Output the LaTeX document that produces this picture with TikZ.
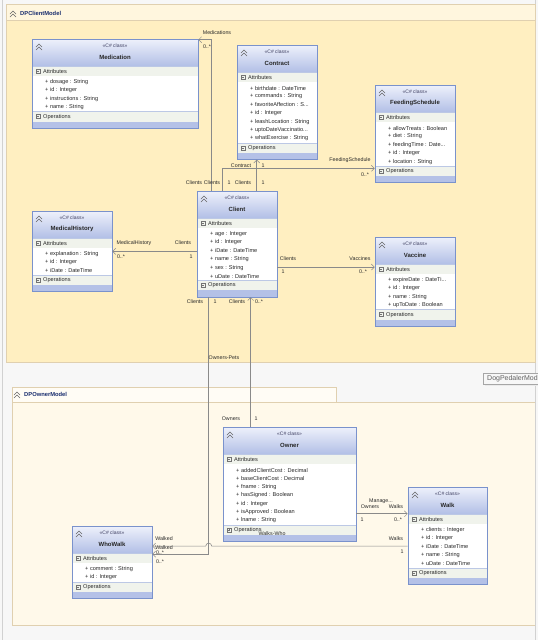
\documentclass[tikz,border=0pt]{standalone}
\usepackage{fontspec}
\setmainfont{Liberation Sans}
\usepackage{tikz}
\usetikzlibrary{calc,fit,arrows.meta,positioning}

\definecolor{pkgbody}{RGB}{255,239,193}
\definecolor{pkghead}{RGB}{255,246,222}
\definecolor{pkgline}{RGB}{224,208,176}
\definecolor{ownbody}{RGB}{255,249,234}
\definecolor{ownhead}{RGB}{255,252,245}
\definecolor{clborder}{RGB}{122,146,204}
\definecolor{clshtop}{RGB}{238,241,251}
\definecolor{clshbot}{RGB}{178,191,230}
\definecolor{clfoot}{RGB}{180,193,231}
\definecolor{clrow}{RGB}{240,243,236}
\definecolor{cltext}{RGB}{40,40,40}
\definecolor{clstereo}{RGB}{60,60,95}
\definecolor{linkgrey}{RGB}{138,138,138}
\definecolor{pkgtitle}{RGB}{25,45,110}

\tikzset{
  assoc/.style={draw=linkgrey, line width=0.6pt},
  navarrow/.style={assoc, -{Straight Barb[length=3pt,width=6pt,line width=0.5pt]}},
  lbl/.style={font=\fontsize{5.3}{6}\selectfont, text=cltext, inner sep=0pt},
  attr/.style={font=\fontsize{5.6}{6.5}\selectfont, text=cltext, inner sep=0pt, anchor=west},
  stereo/.style={font=\fontsize{5}{6}\selectfont, text=clstereo, inner sep=0pt},
  clname/.style={font=\fontsize{6}{7}\selectfont\bfseries, text=black!85, inner sep=0pt},
  pkgname/.style={font=\fontsize{5.8}{7}\selectfont\bfseries, text=pkgtitle, inner sep=0pt, anchor=west},
  chev/.style={draw=black!60, line width=0.5pt},
  boxicon/.style={draw=black!55, line width=0.35pt},
}

\newcommand{\tdots}{.\kern0pt.\kern0pt.}
\newcommand{\chevrons}[2]{%
  \draw[chev] (#1-3,#2+1) -- (#1,#2-2) -- (#1+3,#2+1);
  \draw[chev] (#1-3,#2+4) -- (#1,#2+1) -- (#1+3,#2+4);
}

% id, x, y, width, number of attributes, name, attributes, plus sign on operations
\newcommand{\umlclass}[8]{%
  \pgfmathsetmacro\cmx{#2+#4/2}%
  \pgfmathsetmacro\cmrx{#2+#4}%
  \pgfmathsetmacro\cmhy{#3+27}%
  \pgfmathsetmacro\cmay{\cmhy+10}%
  \pgfmathsetmacro\cmoy{\cmay+#5*8.4+2}%
  \pgfmathsetmacro\cmfy{\cmoy+10}%
  \pgfmathsetmacro\cmby{\cmfy+6.5}%
  \fill[white] (#2,#3) rectangle (\cmrx,\cmby);
  \shade[top color=clshtop,bottom color=clshbot] (#2,#3) rectangle (\cmrx,\cmhy);
  \fill[clrow] (#2,\cmhy) rectangle (\cmrx,\cmay);
  \fill[clrow] (#2,\cmoy) rectangle (\cmrx,\cmfy);
  \fill[clfoot] (#2,\cmfy) rectangle (\cmrx,\cmby);
  \draw[clborder!50,line width=0.3pt] (#2,\cmhy) -- (\cmrx,\cmhy) (#2,\cmoy) -- (\cmrx,\cmoy);
  \chevrons{#2+7}{#3+7}
  \node[stereo] (#1-st) at (\cmx,#3+7) {«C\# class»};
  \node[clname] (#1-nm) at (\cmx,#3+18) {#6};
  \draw[boxicon] (#2+4,\cmhy+3) rectangle (#2+8,\cmhy+7) (#2+5,\cmhy+5) -- (#2+7,\cmhy+5);
  \node[attr] (#1-at) at (#2+11,\cmhy+5) {Attributes};
  \foreach \a [count=\i] in {#7}
    \node[attr] (#1-a\i) at (#2+13,\cmay+6+\i*8.4-8.4) {\a};
  \draw[boxicon] (#2+4,\cmoy+3) rectangle (#2+8,\cmoy+7) (#2+5,\cmoy+5) -- (#2+7,\cmoy+5);
  \ifnum#8=1 \draw[boxicon] (#2+6,\cmoy+4) -- (#2+6,\cmoy+6); \fi
  \node[attr] (#1-op) at (#2+11,\cmoy+5) {Operations};
  \node[fit={(#2,#3) (\cmrx,\cmby)}, inner sep=0pt, draw=clborder, line width=0.6pt] (#1) {};
}

\begin{document}
\begin{tikzpicture}[x=1pt,y=-1pt]
\useasboundingbox (0,0) rectangle (538,640);
\clip (0,0) rectangle (538,640);
\fill[black!3] (0,0) rectangle (538,640);
\draw[black!18,line width=0.5pt] (2.5,0) -- (2.5,640) (535.5,0) -- (535.5,640);

% packages
\fill[pkgbody] (6,4) rectangle (535,362);
\fill[pkghead] (6,4) rectangle (535,20);
\draw[pkgline,line width=0.5pt] (6,4) rectangle (535,362) (6,20) -- (535,20);
\chevrons{13}{13}
\node[pkgname] (pkgclient) at (20,13.5) {DPClientModel};

\fill[ownbody] (12,402) rectangle (535,625);
\fill[ownhead] (12,387) rectangle (336,402);
\draw[pkgline,line width=0.5pt] (535,402) -- (12,402) -- (12,625) -- (535,625) (12,402) -- (12,387) -- (336,387) -- (336,402);
\chevrons{17}{394}
\node[pkgname] (pkgowner) at (24,394.5) {DPOwnerModel};

\fill[black!8] (485,375) rectangle (545,386);
\fill[white!97!black] (483,373) rectangle (545,384);
\draw[black!35,line width=0.5pt] (483,373) rectangle (545,384);
\node[font=\fontsize{7}{8}\selectfont, text=black!62, inner sep=0pt, anchor=west] (tag) at (487,378.5) {DogPedalerMod};

% classes
\umlclass{medication}{32}{39}{166}{4}{Medication}{+ dosage : String, + id : Integer, + instructions : String, + name : String}{0}
\umlclass{contract}{237}{45}{80}{7}{Contract}{+ birthdate : DateTime, + commands : String, + favoriteAffection : S\tdots, + id : Integer, + leashLocation : String, + uptoDateVaccinatio\tdots, + whatExercise : String}{0}
\umlclass{feeding}{375}{85}{80}{5}{FeedingSchedule}{+ allowTreats : Boolean, + diet : String, + feedingTime : Date\tdots, + id : Integer, + location : String}{0}
\umlclass{medhist}{32}{211}{80}{3}{MedicalHistory}{+ explanation : String, + id : Integer, + iDate : DateTime}{0}
\umlclass{client}{197}{191}{80}{6}{Client}{+ age : Integer, + id : Integer, + iDate : DateTime, + name : String, + sex : String, + uDate : DateTime}{0}
\umlclass{vaccine}{375}{237}{80}{4}{Vaccine}{+ expireDate : DateTi\tdots, + id : Integer, + name : String, + upToDate : Boolean}{0}
\umlclass{owner}{223}{427}{133}{7}{Owner}{+ addedClientCost : Decimal, + baseClientCost : Decimal, + fname : String, + hasSigned : Boolean, + id : Integer, + isApproved : Boolean, + lname : String}{1}
\umlclass{walk}{408}{487}{79}{5}{Walk}{+ clients : Integer, + id : Integer, + iDate : DateTime, + name : String, + uDate : DateTime}{0}
\umlclass{whowalk}{72}{526}{80}{2}{WhoWalk}{+ comment : String, + id : Integer}{0}

% connectors
\coordinate (cMed) at ([xshift=15pt]client.north west);
\coordinate (cFeed) at ([xshift=26pt]client.north west);
\coordinate (cCon) at ([xshift=60pt]client.north west);
\coordinate (cWho) at ([xshift=12pt]client.south west);
\coordinate (cOwn) at ([xshift=28pt]owner.north west);
\coordinate (fA) at ([yshift=14.5pt]feeding.south west);
\coordinate (vA) at ([yshift=14.5pt]vaccine.west);
\coordinate (mA) at ([yshift=22pt]walk.west);
\coordinate (wA) at ([yshift=8pt]whowalk.east);
\coordinate (wB) at ([yshift=16pt]whowalk.east);

\draw[navarrow] (cMed) |- ([yshift=-1pt]medication.north east);
\draw[navarrow] (cCon) -- (cCon |- contract.south);
\draw[navarrow] (cFeed) |- (fA);
\draw[navarrow] (client.west |- medhist.east) -- (medhist.east);
\draw[navarrow] (client.east |- vA) -- (vA);
\draw[navarrow] (cOwn) -- (cOwn |- client.south);
\draw[navarrow] (cWho) |- (wA);
\draw[navarrow] (walk.west |- wB) -- ($(cWho |- wB)+(3,0)$) arc[start angle=0,end angle=180,radius=3pt] -- (wB);
\draw[navarrow] (owner.east |- mA) -- (mA);

% end labels
\node[lbl] (l1) at (217,33) {Medications};
\node[lbl] (l2) at (207,47) {0..*};
\node[lbl] (l3) at (194,183) {Clients};
\node[lbl] (l4) at (212,183) {Clients};
\node[lbl] (l5) at (229,183) {1};
\node[lbl] (l6) at (243,183) {Clients};
\node[lbl] (l7) at (263,183) {1};
\node[lbl] (l8) at (241,166) {Contract};
\node[lbl] (l9) at (263,166) {1};
\node[lbl] (l10) at (350,160) {FeedingSchedule};
\node[lbl] (l11) at (365,175) {0..*};
\node[lbl] (l12) at (134,243) {MedicalHistory};
\node[lbl] (l13) at (121,257) {0..*};
\node[lbl] (l14) at (183,243) {Clients};
\node[lbl] (l15) at (191,257) {1};
\node[lbl] (l16) at (288,259) {Clients};
\node[lbl] (l17) at (283,272) {1};
\node[lbl] (l18) at (360,259) {Vaccines};
\node[lbl] (l19) at (363,272) {0..*};
\node[lbl] (l20) at (195,302) {Clients};
\node[lbl] (l21) at (215,302) {1};
\node[lbl] (l22) at (237,302) {Clients};
\node[lbl] (l23) at (259,302) {0..*};
\node[lbl] (l24) at (224,358) {Owners-Pets};
\node[lbl] (l25) at (231,419) {Owners};
\node[lbl] (l26) at (256,419) {1};
\node[lbl] (l27) at (381,501) {Manage...};
\node[lbl] (l28) at (370,507) {Owners};
\node[lbl] (l29) at (396,507) {Walks};
\node[lbl] (l30) at (362,520) {1};
\node[lbl] (l31) at (398,520) {0..*};
\node[lbl] (l32) at (396,539) {Walks};
\node[lbl] (l33) at (402,552) {1};
\node[lbl] (l34) at (272,534) {Walks-Who};
\node[lbl] (l35) at (164,539) {Walked};
\node[lbl] (l36) at (164,548) {Walked};
\node[lbl] (l37) at (160,553) {0..*};
\node[lbl] (l38) at (160,562) {0..*};
\end{tikzpicture}
\end{document}
